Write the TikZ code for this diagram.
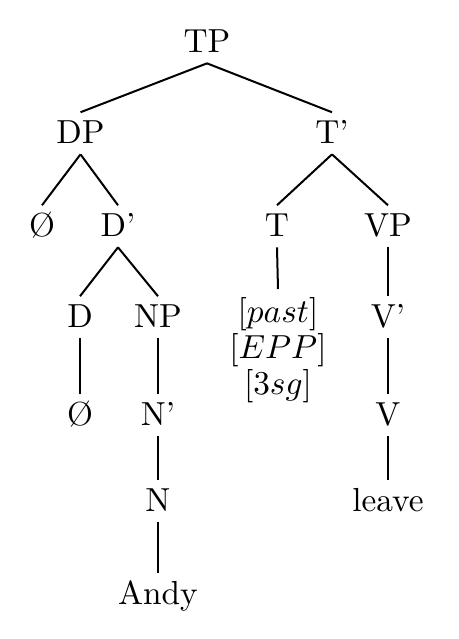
\documentclass[tikz,border=0pt]{standalone}
\usepackage{tikz}

\begin{document}
\begin{tikzpicture}[
    x=0.3pt, y=-0.3pt,
    cat/.style    = {anchor=base, inner sep=2.2pt, text height=6.83pt, text depth=1pt},
    feat/.style   = {anchor=north, inner sep=2.2pt, align=center},
    branch/.style = {line width=0.6pt},
  ]
    \useasboundingbox (0,0) rectangle (459,639);

    % ── Root ─────────────────────────────────────────────────
    \node[cat] (tp)   at (207, 52) {TP};
    \node[cat] (dp)   at (80.5, 143) {DP};
    \node[cat] (tbar) at (332, 143) {T'};
    \draw[branch] (tp.south) -- (dp.north);
    \draw[branch] (tp.south) -- (tbar.north);

    % ── Subject DP ───────────────────────────────────────────
    \node[cat] (nulldet) at (42, 236) {Ø};
    \node[cat] (dbar)    at (118, 236) {D'};
    \node[cat] (det)     at (80, 327) {D};
    \node[cat] (np)      at (158, 327) {NP};
    \node[cat] (nulld)   at (80, 425) {Ø};
    \node[cat] (nbar)    at (158, 425) {N'};
    \node[cat] (noun)    at (158, 511) {N};
    \node[cat] (andy)    at (158, 604) {Andy};
    \draw[branch] (dp.south)   -- (nulldet.north);
    \draw[branch] (dp.south)   -- (dbar.north);
    \draw[branch] (dbar.south) -- (det.north);
    \draw[branch] (dbar.south) -- (np.north);
    \draw[branch] (det.south)  -- (nulld.north);
    \draw[branch] (np.south)   -- (nbar.north);
    \draw[branch] (nbar.south) -- (noun.north);
    \draw[branch] (noun.south) -- (andy.north);

    % ── T' and VP ────────────────────────────────────────────
    \node[cat]  (tense) at (277, 236) {T};
    \node[cat]  (vp)    at (388, 236) {VP};
    \node[feat] (tfeat) at (278, 289) {$[past]$\\[-1.2pt]$[EPP]$\\[-1.2pt]$[3sg]$};
    \node[cat]  (vbar)  at (388, 327) {V'};
    \node[cat]  (verb)  at (388, 425) {V};
    \node[cat]  (leave) at (388, 511) {leave};
    \draw[branch] (tbar.south)  -- (tense.north);
    \draw[branch] (tbar.south)  -- (vp.north);
    \draw[branch] (tense.south) -- (tfeat.north);
    \draw[branch] (vp.south)    -- (vbar.north);
    \draw[branch] (vbar.south)  -- (verb.north);
    \draw[branch] (verb.south)  -- (leave.north);

  \end{tikzpicture}
\end{document}
